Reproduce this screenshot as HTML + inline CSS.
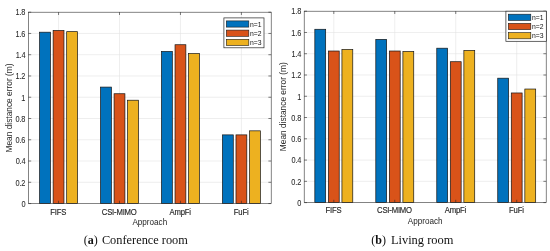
<!DOCTYPE html>
<html><head><meta charset="utf-8"><title>Figure</title>
<style>
html,body{margin:0;padding:0;background:#fff;}
svg{display:block}
.t{font-family:"Liberation Sans",sans-serif;font-size:8.2px;fill:#262626;stroke:#262626;stroke-width:0.15px;letter-spacing:-0.2px;transform-box:fill-box;transform-origin:center;transform:scaleX(.94)}
.te{transform-origin:right center;transform:scaleX(.9);stroke-width:0.05px}
.l{font-family:"Liberation Sans",sans-serif;font-size:8.15px;fill:#262626}
.yl{font-size:8.35px}
.g{font-family:"Liberation Sans",sans-serif;font-size:6.8px;fill:#111}
.c{font-family:"Liberation Serif",serif;font-size:12px;fill:#111}
</style></head><body>
<svg width="550" height="251" viewBox="0 0 550 251">
<rect width="550" height="251" fill="#fff"/>
<rect x="28.4" y="12.2" width="242.80" height="191.35" fill="#fff"/>
<line x1="28.4" x2="271.2" y1="182.29" y2="182.29" stroke="#e2e2e2" stroke-width="0.6"/>
<line x1="28.4" x2="271.2" y1="161.03" y2="161.03" stroke="#e2e2e2" stroke-width="0.6"/>
<line x1="28.4" x2="271.2" y1="139.77" y2="139.77" stroke="#e2e2e2" stroke-width="0.6"/>
<line x1="28.4" x2="271.2" y1="118.51" y2="118.51" stroke="#e2e2e2" stroke-width="0.6"/>
<line x1="28.4" x2="271.2" y1="97.24" y2="97.24" stroke="#e2e2e2" stroke-width="0.6"/>
<line x1="28.4" x2="271.2" y1="75.98" y2="75.98" stroke="#e2e2e2" stroke-width="0.6"/>
<line x1="28.4" x2="271.2" y1="54.72" y2="54.72" stroke="#e2e2e2" stroke-width="0.6"/>
<line x1="28.4" x2="271.2" y1="33.46" y2="33.46" stroke="#e2e2e2" stroke-width="0.6"/>
<line x1="58.55" x2="58.55" y1="12.2" y2="203.55" stroke="#e2e2e2" stroke-width="0.6"/>
<line x1="119.50" x2="119.50" y1="12.2" y2="203.55" stroke="#e2e2e2" stroke-width="0.6"/>
<line x1="180.45" x2="180.45" y1="12.2" y2="203.55" stroke="#e2e2e2" stroke-width="0.6"/>
<line x1="241.40" x2="241.40" y1="12.2" y2="203.55" stroke="#e2e2e2" stroke-width="0.6"/>
<rect x="39.59" y="32.19" width="10.84" height="171.36" fill="#0072BD" stroke="#151515" stroke-width="0.7"/>
<rect x="53.13" y="30.48" width="10.84" height="173.07" fill="#D95319" stroke="#151515" stroke-width="0.7"/>
<rect x="66.68" y="31.65" width="10.84" height="171.90" fill="#EDB120" stroke="#151515" stroke-width="0.7"/>
<rect x="100.54" y="87.09" width="10.84" height="116.46" fill="#0072BD" stroke="#151515" stroke-width="0.7"/>
<rect x="114.08" y="93.74" width="10.84" height="109.81" fill="#D95319" stroke="#151515" stroke-width="0.7"/>
<rect x="127.63" y="100.22" width="10.84" height="103.33" fill="#EDB120" stroke="#151515" stroke-width="0.7"/>
<rect x="161.49" y="51.43" width="10.84" height="152.12" fill="#0072BD" stroke="#151515" stroke-width="0.7"/>
<rect x="175.03" y="44.73" width="10.84" height="158.82" fill="#D95319" stroke="#151515" stroke-width="0.7"/>
<rect x="188.58" y="53.55" width="10.84" height="150.00" fill="#EDB120" stroke="#151515" stroke-width="0.7"/>
<rect x="222.44" y="134.88" width="10.84" height="68.67" fill="#0072BD" stroke="#151515" stroke-width="0.7"/>
<rect x="235.98" y="134.88" width="10.84" height="68.67" fill="#D95319" stroke="#151515" stroke-width="0.7"/>
<rect x="249.53" y="130.84" width="10.84" height="72.71" fill="#EDB120" stroke="#151515" stroke-width="0.7"/>
<rect x="28.4" y="12.2" width="242.80" height="191.35" fill="none" stroke="#333" stroke-width="0.6"/>
<line x1="28.4" x2="31.20" y1="203.55" y2="203.55" stroke="#262626" stroke-width="0.6"/>
<line x1="271.2" x2="268.40" y1="203.55" y2="203.55" stroke="#262626" stroke-width="0.6"/>
<text x="25.30" y="206.85" text-anchor="end" class="t te">0</text>
<line x1="28.4" x2="31.20" y1="182.29" y2="182.29" stroke="#262626" stroke-width="0.6"/>
<line x1="271.2" x2="268.40" y1="182.29" y2="182.29" stroke="#262626" stroke-width="0.6"/>
<text x="25.30" y="185.59" text-anchor="end" class="t te">0.2</text>
<line x1="28.4" x2="31.20" y1="161.03" y2="161.03" stroke="#262626" stroke-width="0.6"/>
<line x1="271.2" x2="268.40" y1="161.03" y2="161.03" stroke="#262626" stroke-width="0.6"/>
<text x="25.30" y="164.33" text-anchor="end" class="t te">0.4</text>
<line x1="28.4" x2="31.20" y1="139.77" y2="139.77" stroke="#262626" stroke-width="0.6"/>
<line x1="271.2" x2="268.40" y1="139.77" y2="139.77" stroke="#262626" stroke-width="0.6"/>
<text x="25.30" y="143.07" text-anchor="end" class="t te">0.6</text>
<line x1="28.4" x2="31.20" y1="118.51" y2="118.51" stroke="#262626" stroke-width="0.6"/>
<line x1="271.2" x2="268.40" y1="118.51" y2="118.51" stroke="#262626" stroke-width="0.6"/>
<text x="25.30" y="121.81" text-anchor="end" class="t te">0.8</text>
<line x1="28.4" x2="31.20" y1="97.24" y2="97.24" stroke="#262626" stroke-width="0.6"/>
<line x1="271.2" x2="268.40" y1="97.24" y2="97.24" stroke="#262626" stroke-width="0.6"/>
<text x="25.30" y="100.54" text-anchor="end" class="t te">1</text>
<line x1="28.4" x2="31.20" y1="75.98" y2="75.98" stroke="#262626" stroke-width="0.6"/>
<line x1="271.2" x2="268.40" y1="75.98" y2="75.98" stroke="#262626" stroke-width="0.6"/>
<text x="25.30" y="79.28" text-anchor="end" class="t te">1.2</text>
<line x1="28.4" x2="31.20" y1="54.72" y2="54.72" stroke="#262626" stroke-width="0.6"/>
<line x1="271.2" x2="268.40" y1="54.72" y2="54.72" stroke="#262626" stroke-width="0.6"/>
<text x="25.30" y="58.02" text-anchor="end" class="t te">1.4</text>
<line x1="28.4" x2="31.20" y1="33.46" y2="33.46" stroke="#262626" stroke-width="0.6"/>
<line x1="271.2" x2="268.40" y1="33.46" y2="33.46" stroke="#262626" stroke-width="0.6"/>
<text x="25.30" y="36.76" text-anchor="end" class="t te">1.6</text>
<line x1="28.4" x2="31.20" y1="12.20" y2="12.20" stroke="#262626" stroke-width="0.6"/>
<line x1="271.2" x2="268.40" y1="12.20" y2="12.20" stroke="#262626" stroke-width="0.6"/>
<text x="25.30" y="15.50" text-anchor="end" class="t te">1.8</text>
<line x1="58.55" x2="58.55" y1="203.55" y2="200.75" stroke="#262626" stroke-width="0.6"/>
<line x1="58.55" x2="58.55" y1="12.2" y2="15.00" stroke="#262626" stroke-width="0.6"/>
<text x="58.25" y="214.8" text-anchor="middle" class="t">FIFS</text>
<line x1="119.50" x2="119.50" y1="203.55" y2="200.75" stroke="#262626" stroke-width="0.6"/>
<line x1="119.50" x2="119.50" y1="12.2" y2="15.00" stroke="#262626" stroke-width="0.6"/>
<text x="119.20" y="214.8" text-anchor="middle" class="t">CSI-MIMO</text>
<line x1="180.45" x2="180.45" y1="203.55" y2="200.75" stroke="#262626" stroke-width="0.6"/>
<line x1="180.45" x2="180.45" y1="12.2" y2="15.00" stroke="#262626" stroke-width="0.6"/>
<text x="180.15" y="214.8" text-anchor="middle" class="t">AmpFi</text>
<line x1="241.40" x2="241.40" y1="203.55" y2="200.75" stroke="#262626" stroke-width="0.6"/>
<line x1="241.40" x2="241.40" y1="12.2" y2="15.00" stroke="#262626" stroke-width="0.6"/>
<text x="241.10" y="214.8" text-anchor="middle" class="t">FuFi</text>
<text x="149.80" y="225.1" text-anchor="middle" class="l">Approach</text>
<text transform="translate(11.6,108.0) rotate(-90)" text-anchor="middle" class="l yl">Mean distance error (m)</text>
<rect x="223.9" y="17.9" width="40.10" height="29.90" fill="#fff" stroke="#262626" stroke-width="0.7"/>
<rect x="226.30" y="20.90" width="22.5" height="6.2" fill="#0072BD" stroke="#1a1a1a" stroke-width="0.6"/>
<text x="250.00" y="26.50" class="g">n=1</text>
<rect x="226.30" y="30.10" width="22.5" height="6.2" fill="#D95319" stroke="#1a1a1a" stroke-width="0.6"/>
<text x="250.00" y="35.70" class="g">n=2</text>
<rect x="226.30" y="39.30" width="22.5" height="6.2" fill="#EDB120" stroke="#1a1a1a" stroke-width="0.6"/>
<text x="250.00" y="44.90" class="g">n=3</text>
<text x="83.8" y="244.3" class="c">(<tspan font-weight="bold">a</tspan>)</text>
<text x="101.9" y="244.3" class="c" textLength="86.0" lengthAdjust="spacingAndGlyphs">Conference room</text><rect x="304.2" y="11.2" width="242.00" height="191.40" fill="#fff"/>
<line x1="304.2" x2="546.2" y1="181.33" y2="181.33" stroke="#e2e2e2" stroke-width="0.6"/>
<line x1="304.2" x2="546.2" y1="160.07" y2="160.07" stroke="#e2e2e2" stroke-width="0.6"/>
<line x1="304.2" x2="546.2" y1="138.80" y2="138.80" stroke="#e2e2e2" stroke-width="0.6"/>
<line x1="304.2" x2="546.2" y1="117.53" y2="117.53" stroke="#e2e2e2" stroke-width="0.6"/>
<line x1="304.2" x2="546.2" y1="96.27" y2="96.27" stroke="#e2e2e2" stroke-width="0.6"/>
<line x1="304.2" x2="546.2" y1="75.00" y2="75.00" stroke="#e2e2e2" stroke-width="0.6"/>
<line x1="304.2" x2="546.2" y1="53.73" y2="53.73" stroke="#e2e2e2" stroke-width="0.6"/>
<line x1="304.2" x2="546.2" y1="32.47" y2="32.47" stroke="#e2e2e2" stroke-width="0.6"/>
<line x1="333.80" x2="333.80" y1="11.2" y2="202.6" stroke="#e2e2e2" stroke-width="0.6"/>
<line x1="394.77" x2="394.77" y1="11.2" y2="202.6" stroke="#e2e2e2" stroke-width="0.6"/>
<line x1="455.74" x2="455.74" y1="11.2" y2="202.6" stroke="#e2e2e2" stroke-width="0.6"/>
<line x1="516.71" x2="516.71" y1="11.2" y2="202.6" stroke="#e2e2e2" stroke-width="0.6"/>
<rect x="314.83" y="29.28" width="10.84" height="173.32" fill="#0072BD" stroke="#151515" stroke-width="0.7"/>
<rect x="328.38" y="51.02" width="10.84" height="151.58" fill="#D95319" stroke="#151515" stroke-width="0.7"/>
<rect x="341.93" y="49.48" width="10.84" height="153.12" fill="#EDB120" stroke="#151515" stroke-width="0.7"/>
<rect x="375.80" y="39.38" width="10.84" height="163.22" fill="#0072BD" stroke="#151515" stroke-width="0.7"/>
<rect x="389.35" y="51.02" width="10.84" height="151.58" fill="#D95319" stroke="#151515" stroke-width="0.7"/>
<rect x="402.90" y="51.50" width="10.84" height="151.10" fill="#EDB120" stroke="#151515" stroke-width="0.7"/>
<rect x="436.77" y="48.20" width="10.84" height="154.40" fill="#0072BD" stroke="#151515" stroke-width="0.7"/>
<rect x="450.32" y="61.71" width="10.84" height="140.89" fill="#D95319" stroke="#151515" stroke-width="0.7"/>
<rect x="463.87" y="50.44" width="10.84" height="152.16" fill="#EDB120" stroke="#151515" stroke-width="0.7"/>
<rect x="497.74" y="78.19" width="10.84" height="124.41" fill="#0072BD" stroke="#151515" stroke-width="0.7"/>
<rect x="511.29" y="92.97" width="10.84" height="109.63" fill="#D95319" stroke="#151515" stroke-width="0.7"/>
<rect x="524.84" y="89.04" width="10.84" height="113.56" fill="#EDB120" stroke="#151515" stroke-width="0.7"/>
<rect x="304.2" y="11.2" width="242.00" height="191.40" fill="none" stroke="#333" stroke-width="0.6"/>
<line x1="304.2" x2="307.00" y1="202.60" y2="202.60" stroke="#262626" stroke-width="0.6"/>
<line x1="546.2" x2="543.40" y1="202.60" y2="202.60" stroke="#262626" stroke-width="0.6"/>
<text x="301.10" y="205.90" text-anchor="end" class="t te">0</text>
<line x1="304.2" x2="307.00" y1="181.33" y2="181.33" stroke="#262626" stroke-width="0.6"/>
<line x1="546.2" x2="543.40" y1="181.33" y2="181.33" stroke="#262626" stroke-width="0.6"/>
<text x="301.10" y="184.63" text-anchor="end" class="t te">0.2</text>
<line x1="304.2" x2="307.00" y1="160.07" y2="160.07" stroke="#262626" stroke-width="0.6"/>
<line x1="546.2" x2="543.40" y1="160.07" y2="160.07" stroke="#262626" stroke-width="0.6"/>
<text x="301.10" y="163.37" text-anchor="end" class="t te">0.4</text>
<line x1="304.2" x2="307.00" y1="138.80" y2="138.80" stroke="#262626" stroke-width="0.6"/>
<line x1="546.2" x2="543.40" y1="138.80" y2="138.80" stroke="#262626" stroke-width="0.6"/>
<text x="301.10" y="142.10" text-anchor="end" class="t te">0.6</text>
<line x1="304.2" x2="307.00" y1="117.53" y2="117.53" stroke="#262626" stroke-width="0.6"/>
<line x1="546.2" x2="543.40" y1="117.53" y2="117.53" stroke="#262626" stroke-width="0.6"/>
<text x="301.10" y="120.83" text-anchor="end" class="t te">0.8</text>
<line x1="304.2" x2="307.00" y1="96.27" y2="96.27" stroke="#262626" stroke-width="0.6"/>
<line x1="546.2" x2="543.40" y1="96.27" y2="96.27" stroke="#262626" stroke-width="0.6"/>
<text x="301.10" y="99.57" text-anchor="end" class="t te">1</text>
<line x1="304.2" x2="307.00" y1="75.00" y2="75.00" stroke="#262626" stroke-width="0.6"/>
<line x1="546.2" x2="543.40" y1="75.00" y2="75.00" stroke="#262626" stroke-width="0.6"/>
<text x="301.10" y="78.30" text-anchor="end" class="t te">1.2</text>
<line x1="304.2" x2="307.00" y1="53.73" y2="53.73" stroke="#262626" stroke-width="0.6"/>
<line x1="546.2" x2="543.40" y1="53.73" y2="53.73" stroke="#262626" stroke-width="0.6"/>
<text x="301.10" y="57.03" text-anchor="end" class="t te">1.4</text>
<line x1="304.2" x2="307.00" y1="32.47" y2="32.47" stroke="#262626" stroke-width="0.6"/>
<line x1="546.2" x2="543.40" y1="32.47" y2="32.47" stroke="#262626" stroke-width="0.6"/>
<text x="301.10" y="35.77" text-anchor="end" class="t te">1.6</text>
<line x1="304.2" x2="307.00" y1="11.20" y2="11.20" stroke="#262626" stroke-width="0.6"/>
<line x1="546.2" x2="543.40" y1="11.20" y2="11.20" stroke="#262626" stroke-width="0.6"/>
<text x="301.10" y="14.50" text-anchor="end" class="t te">1.8</text>
<line x1="333.80" x2="333.80" y1="202.6" y2="199.80" stroke="#262626" stroke-width="0.6"/>
<line x1="333.80" x2="333.80" y1="11.2" y2="14.00" stroke="#262626" stroke-width="0.6"/>
<text x="333.50" y="213.4" text-anchor="middle" class="t">FIFS</text>
<line x1="394.77" x2="394.77" y1="202.6" y2="199.80" stroke="#262626" stroke-width="0.6"/>
<line x1="394.77" x2="394.77" y1="11.2" y2="14.00" stroke="#262626" stroke-width="0.6"/>
<text x="394.47" y="213.4" text-anchor="middle" class="t">CSI-MIMO</text>
<line x1="455.74" x2="455.74" y1="202.6" y2="199.80" stroke="#262626" stroke-width="0.6"/>
<line x1="455.74" x2="455.74" y1="11.2" y2="14.00" stroke="#262626" stroke-width="0.6"/>
<text x="455.44" y="213.4" text-anchor="middle" class="t">AmpFi</text>
<line x1="516.71" x2="516.71" y1="202.6" y2="199.80" stroke="#262626" stroke-width="0.6"/>
<line x1="516.71" x2="516.71" y1="11.2" y2="14.00" stroke="#262626" stroke-width="0.6"/>
<text x="516.41" y="213.4" text-anchor="middle" class="t">FuFi</text>
<text x="425.20" y="223.8" text-anchor="middle" class="l">Approach</text>
<text transform="translate(286.3,106.7) rotate(-90)" text-anchor="middle" class="l yl">Mean distance error (m)</text>
<rect x="505.9" y="11.2" width="40.40" height="30.10" fill="#fff" stroke="#262626" stroke-width="0.7"/>
<rect x="508.30" y="14.20" width="22.5" height="6.2" fill="#0072BD" stroke="#1a1a1a" stroke-width="0.6"/>
<text x="532.00" y="19.80" class="g">n=1</text>
<rect x="508.30" y="23.40" width="22.5" height="6.2" fill="#D95319" stroke="#1a1a1a" stroke-width="0.6"/>
<text x="532.00" y="29.00" class="g">n=2</text>
<rect x="508.30" y="32.60" width="22.5" height="6.2" fill="#EDB120" stroke="#1a1a1a" stroke-width="0.6"/>
<text x="532.00" y="38.20" class="g">n=3</text>
<text x="371.3" y="244.3" class="c">(<tspan font-weight="bold">b</tspan>)</text>
<text x="390.9" y="244.3" class="c" textLength="62.5" lengthAdjust="spacingAndGlyphs">Living room</text>
</svg>
</body></html>
